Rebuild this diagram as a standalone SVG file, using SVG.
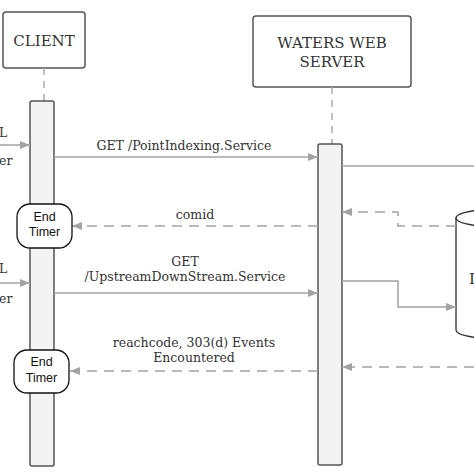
<svg xmlns="http://www.w3.org/2000/svg" width="474" height="474" viewBox="0 0 474 474">
<style>
.box{fill:#fff;stroke:#555;stroke-width:1.5}
.act{fill:#f3f3f3;stroke:#555;stroke-width:1.5}
.life{fill:none;stroke:#aaa;stroke-width:1.5;stroke-dasharray:7,6}
.msg{fill:none;stroke:#a3a3a3;stroke-width:1.5}
.ret{fill:none;stroke:#a3a3a3;stroke-width:1.5;stroke-dasharray:10,7}
.t{font-family:"DejaVu Serif","Liberation Serif",serif;fill:#333;text-anchor:middle}
.lbl{font-size:12.5px}
.hd{font-size:15px}
.s{font-family:"Liberation Sans",Arial,sans-serif;font-size:12.5px;fill:#111;text-anchor:middle}
.timer{fill:#fff;stroke:#111;stroke-width:1.3}
.db{fill:#fff;stroke:#333;stroke-width:1.3}
</style>
<defs>
<marker id="ah" markerWidth="10" markerHeight="8" refX="10" refY="4" orient="auto" markerUnits="userSpaceOnUse">
<path d="M0,0 L10,4 L0,8 Z" fill="#a3a3a3"/>
</marker>
</defs>

<g id="client">
<rect class="box" x="3" y="12" width="82" height="56" rx="3"/>
<text class="t hd" x="44" y="46">CLIENT</text>
<line class="life" x1="44" y1="68" x2="44" y2="101"/>
<rect class="act" x="30" y="101" width="24" height="365" rx="2"/>
</g>

<g id="server">
<rect class="box" x="253" y="16" width="158" height="71" rx="3"/>
<text class="t hd" x="332" y="48">WATERS WEB</text>
<text class="t hd" x="332" y="67">SERVER</text>
<line class="life" x1="332" y1="87" x2="332" y2="144"/>
<rect class="act" x="318" y="144" width="24" height="321" rx="2"/>
</g>

<g id="database">
<path class="db" d="M456,218 L456,330 A32,8 0 0 0 520,330 L520,218 Z"/>
<ellipse class="db" cx="488" cy="218" rx="32" ry="8"/>
<text class="t hd" x="469" y="284" style="text-anchor:start">D</text>
</g>

<g id="connectors">
<line class="msg" x1="0" y1="145" x2="30" y2="145" marker-end="url(#ah)"/>
<line class="msg" x1="54" y1="157" x2="318" y2="157" marker-end="url(#ah)"/>
<line class="msg" x1="342" y1="166" x2="474" y2="166"/>
<path class="ret" d="M456,226 L398,226 L398,212 L342,212" marker-end="url(#ah)"/>
<line class="ret" x1="318" y1="226" x2="72" y2="226" marker-end="url(#ah)"/>
<line class="msg" x1="0" y1="283" x2="30" y2="283" marker-end="url(#ah)"/>
<line class="msg" x1="54" y1="293" x2="318" y2="293" marker-end="url(#ah)"/>
<path class="msg" d="M342,281 L398,281 L398,307 L456,307" marker-end="url(#ah)"/>
<line class="ret" x1="474" y1="367" x2="342" y2="367" marker-end="url(#ah)"/>
<line class="ret" x1="318" y1="371" x2="70" y2="371" marker-end="url(#ah)"/>
</g>

<g id="labels">
<text class="t lbl" x="-1" y="137" style="text-anchor:start">L</text>
<text class="t lbl" x="-1" y="165" style="text-anchor:start">er</text>
<text class="t lbl" x="184" y="150">GET /PointIndexing.Service</text>
<text class="t lbl" x="195" y="219">comid</text>
<text class="t lbl" x="-1" y="273" style="text-anchor:start">L</text>
<text class="t lbl" x="-1" y="303" style="text-anchor:start">er</text>
<text class="t lbl" x="185" y="266">GET</text>
<text class="t lbl" x="185" y="281">/UpstreamDownStream.Service</text>
<text class="t lbl" x="194" y="347">reachcode, 303(d) Events</text>
<text class="t lbl" x="194" y="362">Encountered</text>
</g>

<g id="endtimer1">
<rect class="timer" x="17" y="204" width="55" height="44" rx="13"/>
<text class="s" x="44.5" y="221">End</text>
<text class="s" x="44.5" y="236">Timer</text>
</g>

<g id="endtimer2">
<rect class="timer" x="14" y="350" width="55" height="43" rx="13"/>
<text class="s" x="41.5" y="366">End</text>
<text class="s" x="41.5" y="382">Timer</text>
</g>
</svg>
